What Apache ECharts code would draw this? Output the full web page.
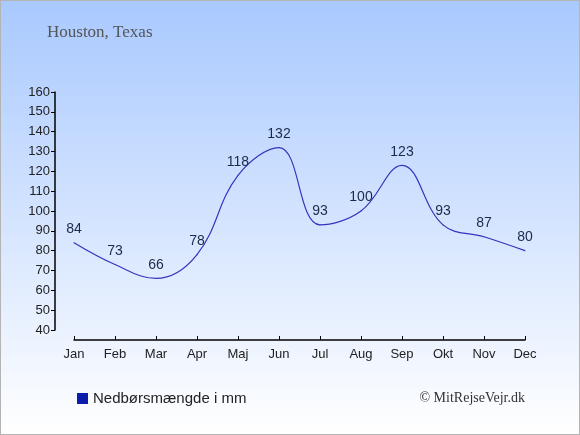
<!DOCTYPE html>
<html><head><meta charset="utf-8">
<script src="https://cdn.jsdelivr.net/npm/echarts@6/dist/echarts.min.js"></script>
<style>html,body{margin:0;padding:0;}#c{width:580px;height:435px;box-sizing:border-box;border:1px solid #b4b4b4;}</style>
</head><body><div id="c"></div>
<script>
var months = ['Jan','Feb','Mar','Apr','Maj','Jun','Jul','Aug','Sep','Okt','Nov','Dec'];
var rainfall = [84,73,66,78,118,132,93,100,123,93,87,80];
var seriesName = 'Nedbørsmængde i mm';
var titleText = 'Houston, Texas';
var creditText = '© MitRejseVejr.dk';

var chart = echarts.init(document.getElementById('c'));
chart.setOption({
  animation: false,
  backgroundColor: new echarts.graphic.LinearGradient(0,0,0,1,[{offset:0,color:'#a9c9ff'},{offset:1,color:'#ffffff'}]),
  title: {text: titleText, left: 41, top: 18, textStyle:{fontFamily:'Liberation Serif', fontWeight:'normal', fontSize:17, color:'#555'}},
  legend: {data:[{name:seriesName, icon:'rect', itemStyle:{color:'#0a1eab'}}], left: 76, top: 390, itemWidth: 11, itemHeight: 11, itemGap: 6, padding: 0,
    textStyle:{fontFamily:'Liberation Sans', fontSize:15, color:'#222'}},
  graphic: [{type:'text', right: 54, top: 390, style:{text: creditText, font:'14px "Liberation Serif"', fill:'#333'}}],
  grid: {left: 73, right: 54, top: 91, bottom: 104, containLabel: false},
  xAxis: {type:'category', data: months, boundaryGap: false, offset: 10,
    axisLine:{lineStyle:{color:'#000', width:1.5}}, axisTick:{inside:true, length:4, lineStyle:{color:'#000'}},
    axisLabel:{fontFamily:'Liberation Sans', fontSize:13, color:'#222', margin:8}, splitLine:{show:false}},
  yAxis: {type:'value', min:40, max:160, interval:10, offset: 19,
    axisLine:{show:true, lineStyle:{color:'#000', width:1.5}}, axisTick:{show:true, length:4, lineStyle:{color:'#000'}},
    axisLabel:{fontFamily:'Liberation Sans', fontSize:13, color:'#222', margin:5}, splitLine:{show:false}},
  series: [{name: seriesName, type:'line', data: rainfall, smooth: 0.4, symbol:'circle', symbolSize: 1, showSymbol: true,
    itemStyle:{color:'#3535bd'},
    lineStyle:{color:'#3535bd', width:1.2},
    label:{show:true, position:'top', distance:6, fontFamily:'Liberation Sans', fontSize:14, color:'#1a2a4a'}}]
});
</script></body></html>
